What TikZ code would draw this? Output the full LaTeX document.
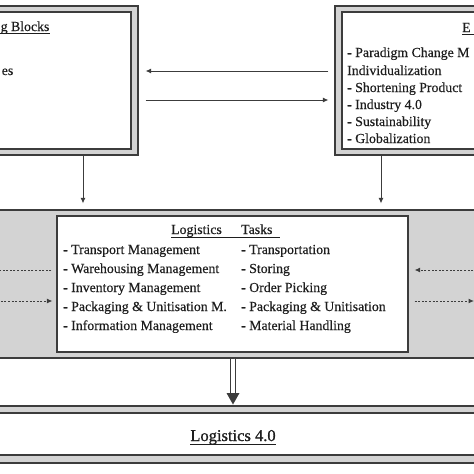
\documentclass[tikz,border=0pt]{standalone}
\usepackage{fontspec}
\setmainfont{Liberation Serif}
\newfontfamily\ff{Liberation Serif}[FakeBold=0.4]
\newfontfamily\ffb{Liberation Serif}[FakeBold=0.9]
\usetikzlibrary{arrows.meta}
\definecolor{lin}{HTML}{3C3C3C}
\definecolor{gfill}{HTML}{D3D3D3}
\definecolor{txt}{HTML}{1E1E1E}
\tikzset{
  frame/.style={draw=lin, line width=1.2pt, fill=gfill, inner sep=0pt, rectangle},
  inframe/.style={draw=lin, line width=1.2pt, fill=white, inner sep=0pt, rectangle},
  arr/.style={draw=lin, line width=1pt, -{Latex[length=5.5pt,width=5pt]}},
  darr/.style={draw=lin, line width=1pt, dash pattern=on 2pt off 1.6pt, -{Latex[length=5.5pt,width=5pt]}},
  dline/.style={draw=lin, line width=1pt, dash pattern=on 2pt off 1.6pt},
  item/.style={anchor=base west, inner sep=0pt, text=txt, font=\ff\fontsize{13.8}{16}\selectfont},
  ul/.style={draw=txt, line width=0.9pt}
}
\begin{document}
\begin{tikzpicture}[x=1pt,y=-1pt]
\useasboundingbox (0,0) rectangle (474,474);
\clip (0,0) rectangle (474,474);
\fill[white] (0,0) rectangle (474,474);

% top boxes
\node[frame, minimum width=158pt, minimum height=149pt] (lout) at (59,80.5) {};
\node[inframe, minimum width=151pt, minimum height=137pt] (lin) at (55.5,80.5) {};
\node[frame, minimum width=159pt, minimum height=149pt] (rout) at (414.5,80.5) {};
\node[inframe, minimum width=152pt, minimum height=137pt] (rin) at (418,80.5) {};

% middle band
\node[frame, minimum width=494pt, minimum height=148pt] (band) at (237,284) {};
\node[inframe, minimum width=351pt, minimum height=136pt] (task) at (232.5,284) {};

% bottom band
\node[frame, minimum width=494pt, minimum height=57pt] (bout) at (237,434.5) {};
\node[inframe, minimum width=494pt, minimum height=42pt] (bin) at (237,434) {};

% texts left box
\node[item] (lh) at (0.5,31) {g Blocks};
\draw[ul] (0,33.5) -- (lh.base east |- 0,33.5);
\node[item, anchor=base east] (lt) at (13.5,75) {es};

% texts right box
\node[item] (rh) at (462,32) {E};
\draw[ul] (462,34) -- (474,34);
\node[item] (r1) at (347,57) {- Paradigm Change M};
\node[item] (r2) at (347,75) {Individualization};
\node[item] (r3) at (347,92) {- Shortening Product};
\node[item] (r4) at (347,109) {- Industry 4.0};
\node[item] (r5) at (347,126) {- Sustainability};
\node[item] (r6) at (347,143) {- Globalization};

% middle texts
\node[item] (th1) at (171,234) {Logistics};
\node[item] (th2) at (241,234) {Tasks};
\draw[ul] (171,237.5) -- (280,237.5);
\node[item] (a1) at (63,254) {- Transport Management};
\node[item] (a2) at (63,273) {- Warehousing Management};
\node[item] (a3) at (63,292) {- Inventory Management};
\node[item] (a4) at (63,311) {- Packaging \& Unitisation M.};
\node[item] (a5) at (63,330) {- Information Management};
\node[item] (b1) at (241,254) {- Transportation};
\node[item] (b2) at (241,273) {- Storing};
\node[item] (b3) at (241,292) {- Order Picking};
\node[item] (b4) at (241,311) {- Packaging \& Unitisation};
\node[item] (b5) at (241,330) {- Material Handling};

% bottom text
\node[anchor=base, inner sep=0pt, text=txt, font=\ffb\fontsize{16.5}{19}\selectfont] (l40) at (233,441) {Logistics 4.0};
\draw[ul, line width=1.1pt] (l40.base west) ++(0,3.2) -- ([yshift=-3.2pt]l40.base east);

% arrows between top boxes
\draw[arr, shorten <=6pt, shorten >=7pt] ([yshift=9.5pt]rout.west) -- ([yshift=9.5pt]lout.east);
\draw[arr, shorten <=7pt, shorten >=6pt] ([yshift=-19.5pt]lout.east) -- ([yshift=-19.5pt]rout.west);

% down arrows
\path ([xshift=24pt]lout.south) coordinate (ld);
\path ([xshift=-33.5pt]rout.south) coordinate (rd);
\draw[arr, shorten >=6pt] (ld) -- (ld |- band.north);
\draw[arr, shorten >=6pt] (rd) -- (rd |- band.north);

% dashed arrows
\coordinate (dl1) at (-10,270);
\coordinate (dl2) at (-10,301);
\coordinate (dr1) at (484,270);
\coordinate (dr2) at (474,301);
\draw[dline, shorten <=5pt] ([yshift=14pt]task.west) -- (dl1);
\draw[darr, shorten >=4pt] (dl2) -- ([yshift=-17pt]task.west);
\draw[darr, shorten >=6pt] (dr1) -- ([yshift=14pt]task.east);
\draw[darr, shorten <=6pt] ([yshift=-17pt]task.east) -- (dr2);

% double arrow
\path ([xshift=-4pt]band.south) coordinate (dtop);
\coordinate (dmid) at (233,393);
\coordinate (dtip) at (233,404.5);
\draw[draw=lin, line width=1pt, double=white, double distance=4.5pt] (dtop) -- (dmid);
\fill[lin] ([xshift=-6.5pt]dmid) -- ([xshift=6.5pt]dmid) -- (dtip) -- cycle;
\end{tikzpicture}
\end{document}
